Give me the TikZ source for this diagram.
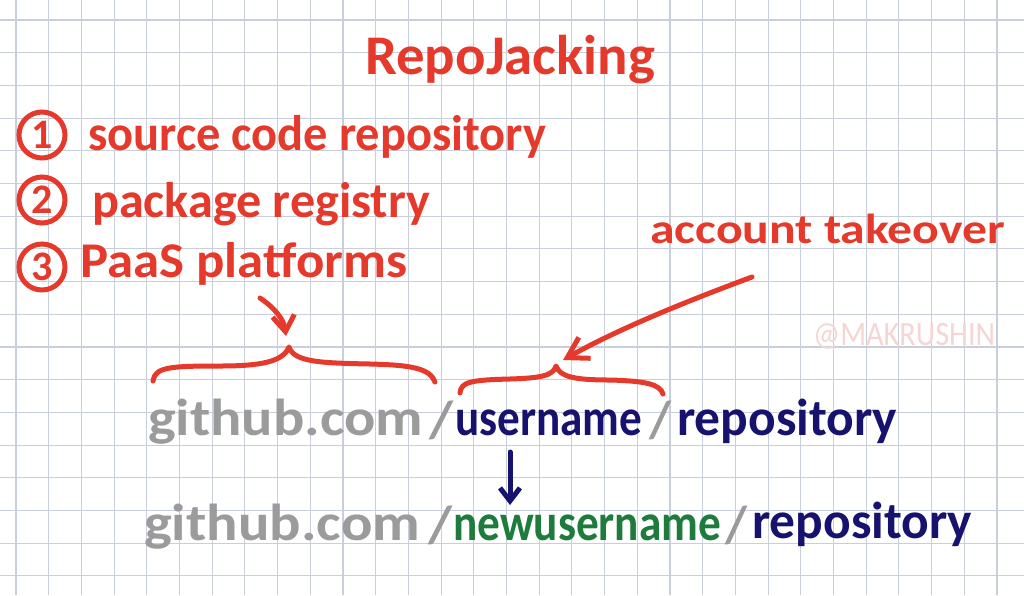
\documentclass[tikz,border=0pt]{standalone}
\usepackage{fontspec}
\setmainfont{Carlito}
\usepackage{graphicx}
\usetikzlibrary{arrows.meta}
\definecolor{hred}{HTML}{E5392B}
\definecolor{hgrey}{HTML}{9B9B9B}
\definecolor{hnavy}{HTML}{16126E}
\definecolor{hgreen}{HTML}{1D7B3B}
\definecolor{hgrid}{HTML}{C8CEDA}
\definecolor{hwater}{HTML}{F4D6D4}
\newsavebox\fitbx
\newcommand\fitw[2]{\sbox\fitbx{#2}\pgfmathsetmacro\fitr{#1/\the\wd\fitbx}\scalebox{\fitr}[1]{\usebox\fitbx}}
\newcommand\fs[1]{\fontsize{#1}{#1}\selectfont\bfseries}
\tikzset{
  hand/.style={line width=5pt, line cap=round, line join=round},
  txt/.style={inner sep=0pt, anchor=base west},
  gridline/.style={draw=hgrid, line width=1.1pt},
  circ/.style={circle, draw=hred, line width=5pt, minimum size=46pt, inner sep=0pt, text=hred},
}
\begin{document}
\begin{tikzpicture}[x=1pt,y=-1pt]
\useasboundingbox (0,0) rectangle (1024,595);
\fill[white] (0,0) rectangle (1024,595);
\foreach \i in {0,...,30} \draw[gridline] ({16+32.7*\i},0) -- ++(0,595);
\foreach \i in {0,...,17} \draw[gridline] (0,{20+32.7*\i}) -- ++(1024,0);

% title and list
\node[txt,text=hred] (title) at (365,74) {\fitw{290}{\fs{56}RepoJacking}};
\node[circ] (c1) at (42,135) {\fs{42}1};
\node[txt,text=hred] (l1) at (88,150) {\fitw{458}{\fs{50}source code repository}};
\node[circ] (c2) at (42,200) {\fs{42}2};
\node[txt,text=hred] (l2) at (92,217) {\fitw{338}{\fs{50}package registry}};
\node[circ] (c3) at (42,267) {\fs{42}3};
\node[txt,text=hred] (l3) at (80,277) {\fitw{327}{\fs{50}PaaS platforms}};
\node[txt,text=hred] (acct) at (650,243) {\fitw{355}{\fs{42}account takeover}};
\node[txt,text=hwater] (wm) at (813,345) {\fitw{182}{\fontsize{34}{34}\selectfont @MAKRUSHIN}};

% URL line 1
\node[txt,text=hgrey] (gh1) at (148,435) {\fitw{275}{\fs{52}github.com}};
\node[txt,text=hgrey] (s1) at (429,437) {\fitw{24}{\fs{52}/}};
\node[txt,text=hnavy] (user1) at (455,435) {\fitw{187}{\fs{52}username}};
\node[txt,text=hgrey] (s2) at (649,437) {\fitw{22}{\fs{52}/}};
\node[txt,text=hnavy] (repo1) at (677,435) {\fitw{220}{\fs{52}repository}};

% URL line 2
\node[txt,text=hgrey] (gh2) at (144,540) {\fitw{276}{\fs{52}github.com}};
\node[txt,text=hgrey] (s3) at (428,542) {\fitw{24}{\fs{52}/}};
\node[txt,text=hgreen] (new2) at (453,540) {\fitw{268}{\fs{52}newusername}};
\node[txt,text=hgrey] (s4) at (725,542) {\fitw{22}{\fs{52}/}};
\node[txt,text=hnavy] (repo2) at (752,538) {\fitw{220}{\fs{52}repository}};

% braces
\coordinate (b1tip) at (289,347);
\coordinate (b2tip) at (556,366);
\draw[hand,hred] (153,381) .. controls (155,367) and (170,366) .. (220,366)
  .. controls (260,366) and (283,362) .. (b1tip)
  .. controls (294,362) and (320,363) .. (370,364)
  .. controls (410,365) and (430,368) .. (435,382);
\draw[hand,hred] (460,393) .. controls (461,382) and (470,380) .. (510,379)
  .. controls (540,378) and (553,376) .. (b2tip)
  .. controls (560,377) and (575,380) .. (610,380)
  .. controls (645,381) and (660,384) .. (663,394);

% arrows
\coordinate (p1) at (260,298);
\coordinate (p2) at (286,336);
\draw[hand,hred,-{Straight Barb[length=16pt,width=22pt]}] (p1) .. controls (275,308) and (284,320) .. (p2);
\coordinate (a1) at (752,277);
\coordinate (a2) at (563,360);
\draw[hand,hred,-{Straight Barb[length=20pt,width=24pt]}] (a1) .. controls (690,300) and (620,328) .. (a2);
\coordinate (d1) at (510,452);
\coordinate (d2) at (510,505);
\draw[hand,hnavy,-{Straight Barb[length=13pt,width=20pt]}] (d1) -- (d2);
\end{tikzpicture}
\end{document}
